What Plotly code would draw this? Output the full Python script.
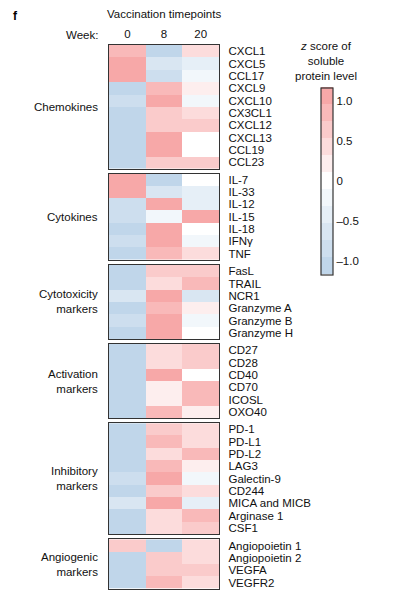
import plotly.graph_objects as go

# ---------------- data ----------------
weeks = ["0", "8", "20"]

group_names = ["Chemokines", "Cytokines", "Cytotoxicity<br>markers",
               "Activation<br>markers", "Inhibitory<br>markers", "Angiogenic<br>markers"]

chemokines = ["CXCL1", "CXCL5", "CCL17", "CXCL9", "CXCL10", "CX3CL1", "CXCL12", "CXCL13", "CCL19", "CCL23"]
chemokines_z = [
    [0.85, -1.05, 0.40],
    [1.12, -0.62, -0.50],
    [1.10, -0.80, -0.30],
    [-1.00, 0.85, 0.15],
    [-0.90, 1.10, -0.20],
    [-1.10, 0.60, 0.50],
    [-1.15, 0.58, 0.57],
    [-1.00, 1.00, 0.00],
    [-1.00, 1.00, 0.00],
    [-1.15, 0.58, 0.57],
]

cytokines = ["IL-7", "IL-33", "IL-12", "IL-15", "IL-18", "IFNγ", "TNF"]
cytokines_z = [
    [1.00, -1.00, 0.00],
    [1.12, -0.62, -0.50],
    [-0.78, 1.12, -0.34],
    [-0.85, -0.20, 1.05],
    [-1.00, 1.00, 0.00],
    [-0.85, 1.05, -0.20],
    [-1.15, 0.78, 0.37],
]

cytotox = ["FasL", "TRAIL", "NCR1", "Granzyme A", "Granzyme B", "Granzyme H"]
cytotox_z = [
    [-1.15, 0.58, 0.57],
    [-1.12, 0.35, 0.77],
    [-0.60, 1.15, -0.55],
    [-1.05, 0.85, 0.20],
    [-0.85, 1.10, -0.25],
    [-1.00, 1.00, 0.00],
]

activation = ["CD27", "CD28", "CD40", "CD70", "ICOSL", "OXO40"]
activation_z = [
    [-1.15, 0.50, 0.65],
    [-1.15, 0.50, 0.65],
    [-1.00, 1.00, 0.00],
    [-1.10, 0.20, 0.90],
    [-1.10, 0.20, 0.90],
    [-1.05, 0.85, 0.20],
]

inhibitory = ["PD-1", "PD-L1", "PD-L2", "LAG3", "Galectin-9", "CD244", "MICA and MICB", "Arginase 1", "CSF1"]
inhibitory_z = [
    [-1.15, 0.63, 0.52],
    [-1.15, 0.78, 0.37],
    [-1.15, 0.37, 0.78],
    [-1.05, 0.85, 0.20],
    [-0.85, 1.10, -0.25],
    [-1.15, 0.63, 0.52],
    [-0.65, 1.15, -0.50],
    [-1.15, 0.37, 0.78],
    [-1.15, 0.52, 0.63],
]

angiogenic = ["Angiopoietin 1", "Angiopoietin 2", "VEGFA", "VEGFR2"]
angiogenic_z = [
    [0.63, -1.15, 0.52],
    [-1.15, 0.63, 0.52],
    [-1.15, 0.58, 0.57],
    [-1.15, 0.78, 0.37],
]

cbar_tickvals = [1.0, 0.5, 0.0, -0.5, -1.0]
cbar_ticktext = ["1.0", "0.5", "0", "\u20130.5", "\u20131.0"]

# ---------------- styling / layout ----------------
OFF = 8                      # page body margin offset
W, H = 393 - 2 * OFF, 603 - 2 * OFF
FONT = "Arial, Liberation Sans, Helvetica, sans-serif"
FS = 11.5
ZMIN, ZMAX = -1.17, 1.17
NBINS = 11


def px(x):
    return (x - OFF) / W


def py(y):
    return 1 - (y - OFF) / H


pink = (247, 168, 168)
blue = (192, 214, 234)


def blend(c, w):
    return tuple(round(255 + (ci - 255) * w) for ci in c)


bin_colors = []
for k in range(-5, 6):
    if k < 0:
        c = blend(blue, -k / 5)
    elif k > 0:
        c = blend(pink, k / 5)
    else:
        c = (255, 255, 255)
    bin_colors.append("rgb(%d,%d,%d)" % c)

colorscale = []
for i, c in enumerate(bin_colors):
    colorscale.append([i / NBINS, c])
    colorscale.append([(i + 1) / NBINS, c])

blocks = [
    (chemokines, chemokines_z),
    (cytokines, cytokines_z),
    (cytotox, cytotox_z),
    (activation, activation_z),
    (inhibitory, inhibitory_z),
    (angiogenic, angiogenic_z),
]

x_left, x_right = 109, 219
top0 = 45
row_h = 12.35
gap = 5.0

fig = go.Figure()
annotations = []
y = top0
for bi, (names, z) in enumerate(blocks):
    n = len(names)
    top = y
    bot = y + n * row_h
    y = bot + gap
    ax = "" if bi == 0 else str(bi + 1)
    fig.add_trace(go.Heatmap(
        z=z, x=weeks, y=names,
        xaxis="x" + ax, yaxis="y" + ax,
        colorscale=colorscale, zmin=ZMIN, zmax=ZMAX,
        showscale=(bi == 0),
        hoverinfo="skip",
        colorbar=dict(
            x=px(321), xanchor="left", xpad=0,
            y=py(87.5), yanchor="top", ypad=0,
            lenmode="pixels", len=187,
            thicknessmode="pixels", thickness=12,
            outlinewidth=1.2, outlinecolor="#333",
            tickvals=cbar_tickvals, ticktext=cbar_ticktext,
            ticks="", tickfont=dict(family=FONT, size=FS, color="#111"),
        ) if bi == 0 else None,
    ))
    xa = dict(
        domain=[px(x_left), px(x_right)],
        anchor="y" + ax,
        type="category",
        range=[-0.5, 2.5],
        showline=True, mirror=True, linecolor="#333", linewidth=1.3,
        showgrid=False, zeroline=False, ticks="",
        tickmode="array", tickvals=weeks, ticktext=weeks,
        showticklabels=(bi == 0), side="top",
        tickfont=dict(family=FONT, size=FS, color="#111"),
        ticklabelstandoff=1,
    )
    ya = dict(
        domain=[py(bot), py(top)],
        anchor="x" + ax,
        type="category",
        range=[n - 0.5, -0.5],
        side="right",
        showline=True, mirror=True, linecolor="#333", linewidth=1.3,
        showgrid=False, zeroline=False, ticks="",
        tickmode="array", tickvals=names, ticktext=names,
        tickfont=dict(family=FONT, size=FS, color="#111"),
        ticklabelstandoff=6,
    )
    fig.layout["xaxis" + ax] = xa
    fig.layout["yaxis" + ax] = ya
    annotations.append(dict(
        x=px(100), y=py((top + bot) / 2), xref="paper", yref="paper",
        xanchor="right", yanchor="middle", align="right",
        text=group_names[bi], showarrow=False,
        font=dict(family=FONT, size=FS, color="#111"),
    ))

annotations += [
    dict(x=px(15), y=1, xref="paper", yref="paper", xanchor="center", yanchor="top",
         text="<b>f</b>", showarrow=False, borderpad=0,
         font=dict(family=FONT, size=12, color="#000")),
    dict(x=px(164), y=py(14), xref="paper", yref="paper", xanchor="center", yanchor="middle",
         text="Vaccination timepoints", showarrow=False, font=dict(family=FONT, size=FS, color="#111")),
    dict(x=px(100), y=py(35), xref="paper", yref="paper", xanchor="right", yanchor="middle",
         text="Week:", showarrow=False, font=dict(family=FONT, size=FS, color="#111")),
    dict(x=px(326), y=py(61), xref="paper", yref="paper", xanchor="center", yanchor="middle",
         text="<i>z</i> score of<br>soluble<br>protein level", showarrow=False, align="center",
         font=dict(family=FONT, size=FS, color="#111")),
]

fig.update_layout(
    width=W, height=H,
    margin=dict(l=0, r=0, t=0, b=0),
    paper_bgcolor="white", plot_bgcolor="white",
    annotations=annotations,
    showlegend=False,
)

fig.write_html("out.html")
